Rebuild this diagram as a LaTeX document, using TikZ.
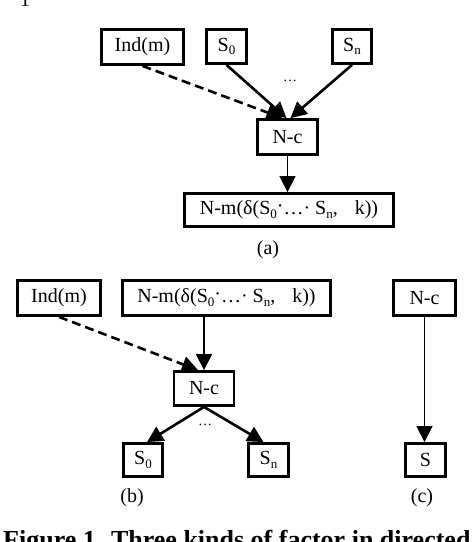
\documentclass[tikz,border=0pt]{standalone}
\usepackage{fontspec}
\setmainfont{Liberation Serif}
\usetikzlibrary{arrows.meta,calc}
\newcommand\sbs[1]{\raisebox{-0.18em}{\fontsize{13}{13}\selectfont #1}}
\tikzset{
  box/.style={draw=black, line width=2.8pt, inner sep=0pt, font=\fontsize{20}{24}\selectfont},
  lbl/.style={inner sep=0pt, font=\fontsize{20}{24}\selectfont},
  tip/.style={-{Triangle[length=16pt,width=16pt]}},
  thickarr/.style={line width=2.6pt, tip},
  dasharr/.style={line width=2.6pt, dash pattern=on 9pt off 5pt, tip},
  thinarr/.style={line width=1.4pt, tip}
}
\begin{document}
\begin{tikzpicture}[x=1pt,y=-1pt]
\clip (0,0) rectangle (474,542);
\fill[white] (0,0) rectangle (474,542);
% fragment at top-left
\node[lbl, anchor=base] (frag) at (25,6) {1};
% (a)
\node[box, minimum width=82pt, minimum height=35pt] (indA) at (142.5,47) {Ind(m)};
\node[box, minimum width=40pt, minimum height=34pt] (s0A) at (226.5,46.5) {S\sbs{0}};
\node[box, minimum width=39pt, minimum height=34pt] (snA) at (352,46.5) {S\sbs{n}};
\node[lbl] (dotsA) at (290,81) {\fontsize{14}{14}\selectfont …};
\node[box, minimum width=60pt, minimum height=35pt] (ncA) at (287.5,137) {N-c};
\node[box, minimum width=209pt, minimum height=33pt] (nmA) at (289,210) {N-m(δ(S\sbs{0}\raisebox{0.1em}{·}…· S\sbs{n},\hspace{0.85em}k))};
\node[lbl] (labA) at (268,250) {(a)};
\draw[dasharr] (indA.south) -- ($(ncA.north)+(-5,0)$);
\draw[thickarr] (s0A.south) -- ($(ncA.north)+(-1,0)$);
\draw[thickarr] (snA.south) -- ($(ncA.north)+(3,0)$);
\draw[thinarr] (ncA.south) -- (nmA.north -| ncA.south);
% (b)
\node[box, minimum width=83pt, minimum height=35pt] (indB) at (59,298) {Ind(m)};
\node[box, minimum width=208pt, minimum height=35pt] (nmB) at (226.5,298) {N-m(δ(S\sbs{0}\raisebox{0.1em}{·}…· S\sbs{n},\hspace{0.85em}k))};
\node[box, minimum width=60pt, minimum height=34pt] (ncB) at (204,388.5) {N-c};
\node[box, minimum width=39pt, minimum height=33pt] (s0B) at (143,460) {S\sbs{0}};
\node[box, minimum width=40pt, minimum height=33pt] (snB) at (268.5,460) {S\sbs{n}};
\node[lbl] (dotsB) at (205,425) {\fontsize{14}{14}\selectfont …};
\node[lbl] (labB) at (132,498) {(b)};
\draw[dasharr] (indB.south) -- ($(ncB.north)+(-6,0)$);
\draw[thinarr] (nmB.south -| ncB.north) -- (ncB.north);
\draw[thickarr] (ncB.south) -- ($(s0B.north)+(4,0)$);
\draw[thickarr] (ncB.south) -- ($(snB.north)+(-5,0)$);
% (c)
\node[box, minimum width=62pt, minimum height=35pt] (ncC) at (424.5,298) {N-c};
\node[box, minimum width=40pt, minimum height=33pt] (sC) at (425.5,460) {S};
\node[lbl] (labC) at (422,498) {(c)};
\draw[thinarr] (ncC.south) -- (sC.north -| ncC.south);
% caption (cut off at the lower edge, as in the reference)
\node[inner sep=0pt, anchor=base west, font=\fontsize{26}{30}\selectfont\bfseries] (cap) at (3,548) {Figure 1. Three kinds of factor in directed graph};
\end{tikzpicture}
\end{document}
